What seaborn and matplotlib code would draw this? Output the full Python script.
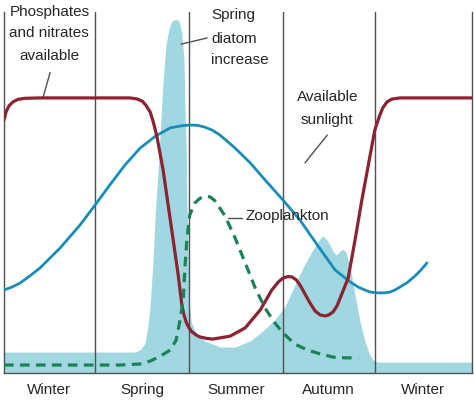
import numpy as np
import pandas as pd
import matplotlib
matplotlib.use("Agg")
import matplotlib.pyplot as plt
import seaborn as sns

# time axis in weeks (5 seasons), levels in % of the chart height
season_names = ["Winter", "Spring", "Summer", "Autumn", "Winter"]
season_edges = [12.6, 25.7, 38.75, 51.5]
season_mids = [6.3, 19.15, 32.2, 45.1, 58.25]

nutrient_x = [0, 0.28, 0.69, 1.25, 1.94, 2.92, 5, 13.3, 17.5, 18.5, 19.2, 19.7, 20.3, 20.7,
              21.25, 22.1, 22.8, 23.5, 24.2, 24.7, 25.0, 25.3, 25.7, 26.1, 26.7, 27.2, 28.1,
              29.0, 31.4, 33.5, 35.6, 37.2, 38.1, 38.75, 39.4, 40, 40.6, 41.1, 42.5, 43.2,
              43.9, 44.6, 45.1, 45.7, 46.25, 46.7, 47.8, 48.75, 49.7, 50.6, 51.5, 52.1,
              52.6, 53.2, 53.9, 55, 65]
nutrient_y = [70.1, 72.3, 74.0, 75.1, 75.8, 76.1, 76.2, 76.2, 76.2, 75.9, 75.3, 74.2, 72.3,
              69.8, 65.4, 56.2, 46.5, 36.8, 27.1, 18.8, 16.1, 14.1, 12.5, 11.4, 10.5, 10.0,
              9.6, 9.4, 10.2, 12.5, 17.5, 23.0, 25.2, 26.3, 26.7, 26.6, 25.8, 24.4, 19.4,
              17.2, 16.1, 15.8, 16.1, 16.9, 18.6, 20.8, 26.3, 36.8, 47.9, 57.6, 67.3, 70.9,
              73.4, 75.1, 75.9, 76.2, 76.2]

light_x = [0, 1.1, 2.22, 3.6, 5, 7.78, 10.56, 12.64, 14.7, 16.8, 18.9, 21.1, 23.1, 24.4,
           25.7, 26.9, 27.9, 28.9, 30, 32.1, 34.2, 36.25, 38.75, 41.1, 43.5, 46, 48.1, 49.2,
           50.1, 50.9, 51.8, 52.8, 53.6, 54.3, 55, 56.1, 57.1, 57.9, 58.75]
light_y = [23.0, 23.8, 24.9, 26.9, 29.1, 34.6, 41.0, 46.5, 52.1, 57.6, 62.3, 65.7, 67.9, 68.4,
           68.7, 68.6, 68.1, 67.3, 65.9, 62.3, 58.2, 53.5, 47.9, 42.4, 35.5, 28.5, 25.2, 23.8,
           23.0, 22.4, 22.2, 22.2, 22.4, 23.0, 23.8, 25.2, 26.9, 28.5, 30.5]

zoo_x = [0, 7.78, 16.1, 18.9, 20.3, 21.25, 22.4, 23.1, 23.9, 24.4, 24.9, 25.1, 25.4, 25.8,
         26.5, 27.1, 27.6, 28.2, 28.6, 29.2, 29.7, 30.7, 32.1, 33.5, 34.9, 36.25, 37.6,
         38.75, 40.4, 42.1, 43.9, 45.7, 47.4, 49.2]
zoo_y = [2.2, 2.2, 2.2, 2.5, 3.3, 4.2, 5.5, 6.4, 9.1, 14.1, 20.2, 28.5, 36.8, 43.8,
         47.1, 48.2, 48.8, 48.9, 48.8, 47.9, 46.5, 43.5, 37.4, 30.5, 23.5, 18.0, 13.9,
         11.1, 8.0, 6.4, 5.3, 4.4, 4.2, 4.2]

diatom_x = [0, 18.2, 19.0, 19.6, 20.0, 20.3, 20.7, 21.0, 21.4, 21.8, 22.1, 22.5, 22.8, 23.1,
            23.3, 23.75, 24.2, 24.4, 24.7, 25.0, 25.1, 25.3, 25.4, 25.6, 25.7, 26.0, 26.7,
            27.9, 30.0, 32.1, 34.2, 35.8, 37.6, 39.0, 40.1, 41.5, 42.9, 43.75, 44.3, 44.9,
            45.6, 46.1, 46.7, 47.1, 47.5, 48.1, 48.75, 49.4, 50.1, 50.7, 51.25, 51.9, 65]
diatom_y = [5.8, 5.8, 6.6, 8.3, 13.3, 18.8, 31.3, 43.8, 56.2, 70.1, 81.2, 90.9, 94.2, 96.4,
            97.5, 97.9, 97.8, 97.0, 94.2, 86.7, 75.6, 61.8, 47.9, 31.3, 20.2, 14.1, 11.1,
            8.9, 7.2, 7.2, 8.9, 11.4, 14.7, 18.3, 23.0, 29.1, 34.1, 36.8, 38.0, 36.8,
            34.1, 32.7, 33.8, 34.3, 33.5, 29.1, 21.6, 14.7, 9.1, 5.5, 3.6, 3.0, 3.0]

red = "#8C2332"
blue = "#1A8CB9"
green = "#1A8255"
fill = "#A0D7E1"
grey = "#505050"

sns.set_style("white")
plt.rcParams["font.family"] = ["Liberation Sans", "DejaVu Sans"]

fig = plt.figure(figsize=(4.74, 4.03), dpi=100)
ax = fig.add_axes([4 / 474, 30 / 403, 468 / 474, 361 / 403])

ax.fill_between(diatom_x, 0, diatom_y, color=fill, lw=0, zorder=1)
for e in season_edges:
    ax.axvline(e, color=grey, lw=1, zorder=2)

df_nut = pd.DataFrame({"week": nutrient_x, "level": nutrient_y})
df_light = pd.DataFrame({"week": light_x, "level": light_y})
df_zoo = pd.DataFrame({"week": zoo_x, "level": zoo_y})

sns.lineplot(data=df_light, x="week", y="level", color=blue, lw=2, ax=ax, zorder=3,
             solid_joinstyle="round", solid_capstyle="round")
sns.lineplot(data=df_nut, x="week", y="level", color=red, lw=2.3, ax=ax, zorder=4,
             solid_joinstyle="round", solid_capstyle="round")
sns.lineplot(data=df_zoo, x="week", y="level", color=green, lw=2.3, ax=ax, zorder=4,
             dashes=False, linestyle=(0, (3, 2)), dash_joinstyle="round")

ax.set_xlim(0, 65)
ax.set_ylim(0, 100)
ax.set_xticks([])
ax.set_yticks([])
ax.set_xlabel("")
ax.set_ylabel("")
ax.spines["top"].set_visible(False)
for s in ["left", "right", "bottom"]:
    ax.spines[s].set_color(grey)
    ax.spines[s].set_linewidth(1)

fs = 11
# labels
ax.text(6.3, 100, "Phosphates", ha="center", va="center", fontsize=fs, clip_on=False)
ax.text(6.3, 94.2, "and nitrates", ha="center", va="center", fontsize=fs)
ax.text(6.3, 87.8, "available", ha="center", va="center", fontsize=fs)
ax.plot([6.4, 5.4], [83.2, 76.2], color=grey, lw=1)

ax.text(28.75, 99.2, "Spring", ha="left", va="center", fontsize=fs, clip_on=False)
ax.text(28.75, 92.5, "diatom", ha="left", va="center", fontsize=fs)
ax.text(28.75, 86.7, "increase", ha="left", va="center", fontsize=fs)
ax.plot([24.6, 28.2], [91.1, 92.8], color=grey, lw=1)

ax.text(44.9, 76.5, "Available", ha="center", va="center", fontsize=fs)
ax.text(44.9, 70.1, "sunlight", ha="center", va="center", fontsize=fs)
ax.plot([41.8, 44.9], [58.2, 65.9], color=grey, lw=1)

ax.text(33.5, 43.5, "Zooplankton", ha="left", va="center", fontsize=fs)
ax.plot([31.1, 33.1], [42.9, 42.9], color=grey, lw=1)

for m, name in zip(season_mids, season_names):
    ax.text(m, -4.7, name, ha="center", va="center", fontsize=fs, clip_on=False)

fig.savefig("out.png", dpi=100)
